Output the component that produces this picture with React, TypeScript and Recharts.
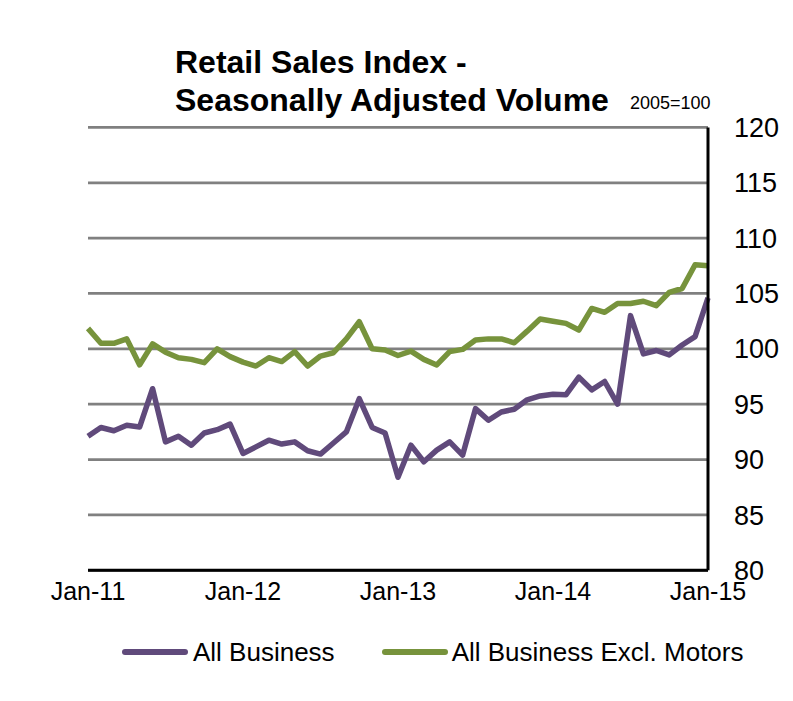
import React from 'react';
import { LineChart, Line, XAxis, YAxis, CartesianGrid, Legend } from 'recharts';

const months = [
  'Jan-11','Feb-11','Mar-11','Apr-11','May-11','Jun-11','Jul-11','Aug-11','Sep-11','Oct-11','Nov-11','Dec-11',
  'Jan-12','Feb-12','Mar-12','Apr-12','May-12','Jun-12','Jul-12','Aug-12','Sep-12','Oct-12','Nov-12','Dec-12',
  'Jan-13','Feb-13','Mar-13','Apr-13','May-13','Jun-13','Jul-13','Aug-13','Sep-13','Oct-13','Nov-13','Dec-13',
  'Jan-14','Feb-14','Mar-14','Apr-14','May-14','Jun-14','Jul-14','Aug-14','Sep-14','Oct-14','Nov-14','Dec-14',
  'Jan-15',
];

const allBusiness = [
  92.1, 92.9, 92.6, 93.1, 92.95, 96.4, 91.6, 92.1, 91.3, 92.4, 92.7, 93.2,
  90.55, 91.15, 91.75, 91.4, 91.6, 90.8, 90.5, 91.5, 92.5, 95.5, 92.9, 92.4,
  88.4, 91.3, 89.8, 90.85, 91.6, 90.4, 94.6, 93.55, 94.3, 94.55, 95.4, 95.75,
  95.9, 95.85, 97.45, 96.3, 97.05, 95.0, 103.0, 99.55, 99.85, 99.45, 100.35, 101.1,
  104.6,
];

const exclMotors = [
  101.85, 100.5, 100.5, 100.9, 98.55, 100.45, 99.7, 99.2, 99.05, 98.75, 100.0, 99.3,
  98.8, 98.45, 99.2, 98.85, 99.75, 98.45, 99.35, 99.65, 100.9, 102.45, 100.0, 99.9,
  99.4, 99.8, 99.05, 98.55, 99.75, 99.95, 100.8, 100.9, 100.9, 100.55, 101.6, 102.7,
  102.5, 102.3, 101.7, 103.65, 103.3, 104.1, 104.1, 104.3, 103.9, 105.1, 105.45, 107.6,
  107.5,
];

const xTicks = ['Jan-11', 'Jan-12', 'Jan-13', 'Jan-14', 'Jan-15'];
const yTicks = [80, 85, 90, 95, 100, 105, 110, 115, 120];

const series = [
  { key: 'allBusiness', name: 'All Business', color: '#604A7B' },
  { key: 'exclMotors', name: 'All Business Excl. Motors', color: '#77933C' },
];

const data = months.map((m, i) => ({
  month: m,
  allBusiness: allBusiness[i],
  exclMotors: exclMotors[i],
}));

const FONT = '"Liberation Sans", Arial, sans-serif';

const renderLegend = () => (
  <div
    style={{
      height: 50,
      display: 'flex',
      alignItems: 'center',
      paddingLeft: 114,
      fontFamily: FONT,
      fontSize: 26,
      color: '#000',
      boxSizing: 'border-box',
    }}
  >
    {series.map((s, idx) => (
      <div key={s.key} style={{ display: 'flex', alignItems: 'center', marginRight: idx === 0 ? 47 : 0 }}>
        <svg width={66} height={8} style={{ display: 'block' }}>
          <line x1={3} y1={4} x2={63} y2={4} stroke={s.color} strokeWidth={6} strokeLinecap="round" />
        </svg>
        <span style={{ marginLeft: idx === 0 ? 5 : 4, whiteSpace: 'nowrap' }}>{s.name}</span>
      </div>
    ))}
  </div>
);

export default function App() {
  return (
    <div style={{ position: 'relative', width: 785, height: 693, fontFamily: FONT, background: '#fff' }}>
      <div
        style={{
          position: 'absolute',
          left: 167,
          top: 35,
          fontSize: 32,
          lineHeight: '38px',
          fontWeight: 'bold',
          color: '#000',
          whiteSpace: 'nowrap',
          zIndex: 2,
        }}
      >
        <div>Retail Sales Index -</div>
        <div>Seasonally Adjusted Volume</div>
      </div>
      <div
        style={{
          position: 'absolute',
          left: 622,
          top: 86,
          fontSize: 18,
          lineHeight: '18px',
          color: '#000',
          whiteSpace: 'nowrap',
          zIndex: 2,
        }}
      >
        2005=100
      </div>
      <LineChart
        width={785}
        height={693}
        data={data}
        margin={{ top: 119.4, right: 25, left: 80, bottom: 40.7 }}
      >
        <CartesianGrid horizontal vertical={false} stroke="#808080" strokeWidth={2.75} />
        <XAxis
          dataKey="month"
          type="category"
          ticks={xTicks}
          interval={0}
          height={40}
          tickLine={false}
          tickSize={6}
          tickMargin={6}
          axisLine={{ stroke: '#000', strokeWidth: 3 }}
          tick={{ fontSize: 25, fill: '#000', fontFamily: FONT }}
        />
        <YAxis
          orientation="right"
          domain={[80, 120]}
          ticks={yTicks}
          interval={0}
          width={60}
          tickLine={false}
          tickSize={0}
          tickMargin={26}
          axisLine={{ stroke: '#000', strokeWidth: 3 }}
          tick={{ fontSize: 27, fill: '#000', fontFamily: FONT }}
          allowDataOverflow
        />
        <Legend
          verticalAlign="bottom"
          content={renderLegend}
          wrapperStyle={{ top: 619, left: 0, width: 785, height: 50 }}
        />
        {series.map((s) => (
          <Line
            key={s.key}
            type="linear"
            dataKey={s.key}
            name={s.name}
            stroke={s.color}
            strokeWidth={5.5}
            strokeLinejoin="round"
            dot={false}
            activeDot={false}
            isAnimationActive={false}
          />
        ))}
      </LineChart>
    </div>
  );
}
